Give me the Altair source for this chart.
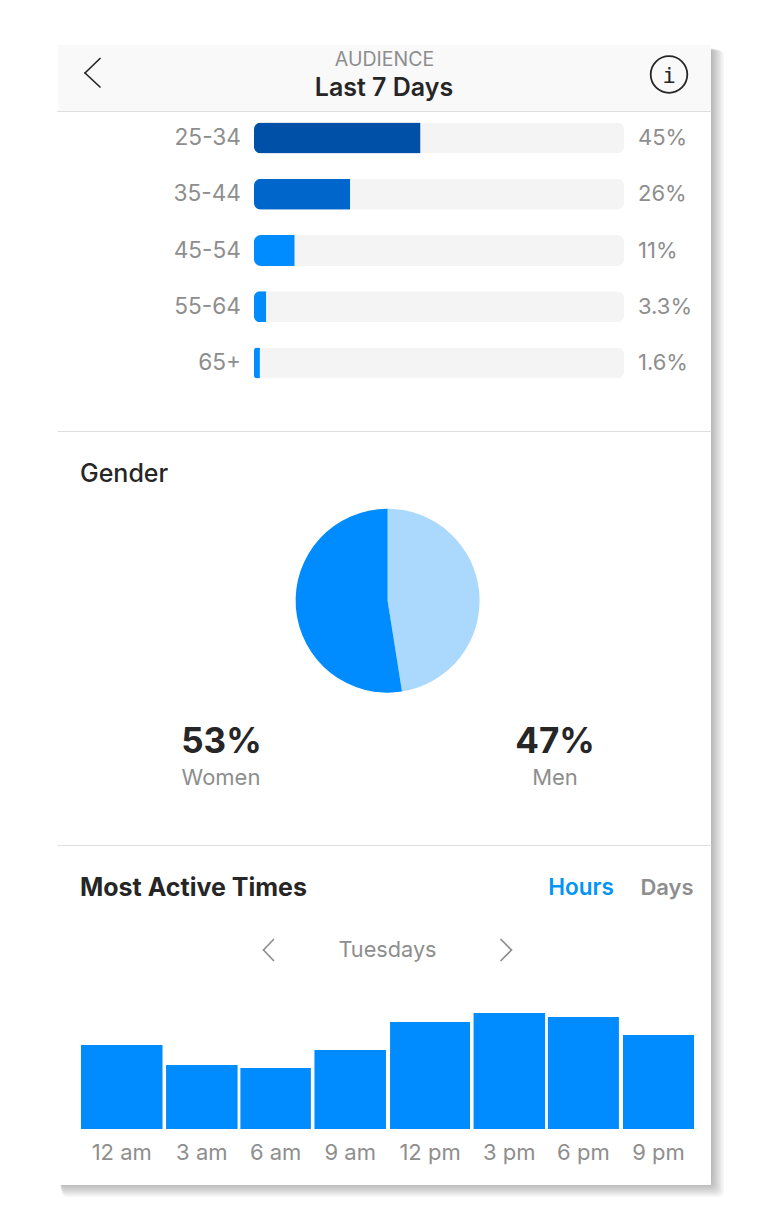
import altair as alt
import pandas as pd

age_groups = ["25-34", "35-44", "45-54", "55-64", "65+"]
age_shares = [45, 26, 11, 3.3, 1.6]
age_labels = ["45%", "26%", "11%", "3.3%", "1.6%"]
gender_names = ["Men", "Women"]
gender_shares = [47.5, 52.5]
hour_labels = ["12 am", "3 am", "6 am", "9 am", "12 pm", "3 pm", "6 pm", "9 pm"]
hour_start = [0, 3.33, 6.24, 9.14, 12.1, 15.37, 18.28, 21.22]
hour_end = [3.19, 6.13, 9.0, 11.94, 15.23, 18.17, 21.06, 24]
hour_activity = [84, 64, 61, 79, 107, 116, 112, 94]

FONT = "Inter"
GRAY = "#8e8e8e"
DARK = "#262626"
BLUE = "#008cff"
one = pd.DataFrame({"a": [0]})


def px(v):
    return alt.value(v - 8)


def rect(x, x2, y, y2, fill, opacity=1.0, radius=0):
    return alt.Chart(one).mark_rect(fill=fill, opacity=opacity, cornerRadius=radius).encode(
        x=px(x), x2=px(x2), y=px(y), y2=px(y2))


def seg(x, y, x2, y2, color, w=1.0):
    return alt.Chart(one).mark_rule(color=color, strokeWidth=w, strokeCap="round").encode(
        x=px(x), x2=px(x2), y=px(y), y2=px(y2))


def txt(s, x, y, size, color=GRAY, weight=400, align="center", font=FONT):
    return alt.Chart(one).mark_text(text=s, fontSize=size, color=color, fontWeight=weight,
                                    align=align, baseline="alphabetic", font=font).encode(
        x=px(x), y=px(y))


layers = []

# card shadow
for k in range(10):
    layers.append(rect(62 - k * 0.4, 724 - k * 1.4, 50 - k * 0.3, 1197 - k * 1.4, "#000000", 0.032, 5))
layers.append(rect(58, 711, 45, 1185, "#ffffff"))
layers.append(rect(58, 711, 45, 111, "#f9f9f9"))
for yy in (111.5, 431.5, 845.5):
    layers.append(seg(58, yy, 711, yy, "#dedede", 1.2))

# header
layers += [
    seg(100, 58.5, 85, 73, "#262626", 1.7),
    seg(85, 73, 100, 87, "#262626", 1.7),
    txt("AUDIENCE", 384.5, 66, 19.5, GRAY),
    txt("Last 7 Days", 384, 96, 25, DARK, 600),
    alt.Chart(one).mark_point(shape="circle", size=1340, filled=False, color="#262626",
                              strokeWidth=1.8, opacity=1).encode(x=px(669), y=px(74.5)),
    txt("i", 669, 83, 22, "#262626", 400, font="DejaVu Sans Mono"),
]

# age bars
age_df = pd.DataFrame({"age": age_groups, "share": age_shares, "label": age_labels, "full": [100] * 5})
age_x = alt.Scale(domain=[0, 100], range=[246, 616])
age_y = alt.Scale(type="point", domain=age_groups, range=[130, 355], padding=0)
Y_age = alt.Y("age:N", scale=age_y, axis=None)
layers.append(alt.Chart(age_df).mark_bar(size=31, cornerRadius=7, color="#f4f4f4").encode(
    x=alt.X("full:Q", scale=age_x, axis=None), y=Y_age))
layers.append(alt.Chart(age_df).mark_bar(size=31, cornerRadiusTopLeft=7, cornerRadiusBottomLeft=7).encode(
    x=alt.X("share:Q", scale=age_x, axis=None), y=Y_age,
    color=alt.Color("age:N", legend=None, scale=alt.Scale(
        domain=age_groups, range=["#0050a8", "#0066cc", BLUE, BLUE, BLUE]))))
layers.append(alt.Chart(age_df).mark_text(align="right", baseline="middle", fontSize=22.7, font=FONT, color=GRAY).encode(
    x=px(241), y=Y_age, text="age:N"))
layers.append(alt.Chart(age_df).mark_text(align="left", baseline="middle", fontSize=22, font=FONT, color=GRAY).encode(
    x=px(638), y=Y_age, text="label:N"))

# gender
gender_df = pd.DataFrame({"name": gender_names, "share": gender_shares})
layers.append(alt.Chart(gender_df).mark_arc(outerRadius=92).encode(
    theta=alt.Theta("share:Q", stack=True),
    order=alt.Order("name:N"),
    color=alt.Color("name:N", legend=None, scale=alt.Scale(domain=gender_names, range=["#abd9fd", BLUE])),
    x=px(387.6), y=px(600.7)))
layers += [
    txt("Gender", 80, 481.5, 25, DARK, 500, "left"),
    txt("53%", 221.5, 753, 35, DARK, 700),
    txt("Women", 221, 785, 22, GRAY),
    txt("47%", 555, 753, 35, DARK, 700),
    txt("Men", 555, 785, 22, GRAY),
]

# most active
layers += [
    txt("Most Active Times", 80, 895.5, 25, DARK, 700, "left"),
    txt("Hours", 581, 894.5, 22.5, "#0095f6", 600),
    txt("Days", 667, 894.5, 22, GRAY, 600),
    txt("Tuesdays", 387.5, 957, 21.7, GRAY),
    seg(273.5, 939.5, 263.5, 950, GRAY, 1.7),
    seg(263.5, 950, 273.5, 960.5, GRAY, 1.7),
    seg(501, 939.5, 511.5, 950, GRAY, 1.7),
    seg(511.5, 950, 501, 960.5, GRAY, 1.7),
]
hour_df = pd.DataFrame({"label": hour_labels, "start": hour_start, "end": hour_end, "v": hour_activity, "base": [0] * 8})
hx = alt.Scale(domain=[0, 24], range=[73, 686])
hy = alt.Scale(domain=[0, 116], range=[1121, 1005])
layers.append(alt.Chart(hour_df).mark_bar(color=BLUE).encode(
    x=alt.X("start:Q", scale=hx, axis=None), x2="end:Q",
    y=alt.Y("v:Q", scale=hy, axis=None), y2="base:Q"))
layers.append(alt.Chart(hour_df).transform_calculate(mid="(datum.start+datum.end)/2").mark_text(
    fontSize=22, font=FONT, color=GRAY, baseline="alphabetic").encode(
    x=alt.X("mid:Q", scale=hx, axis=None), y=px(1160), text="label:N"))

chart = alt.layer(*layers).resolve_scale(x="independent", y="independent", color="independent", theta="independent").properties(
    width=752, height=1215, padding=0, background="#ffffff",
    autosize=alt.AutoSizeParams(type="none")
).configure_view(stroke=None)

chart.save("out.html", embed_options={"renderer": "svg", "actions": False})
